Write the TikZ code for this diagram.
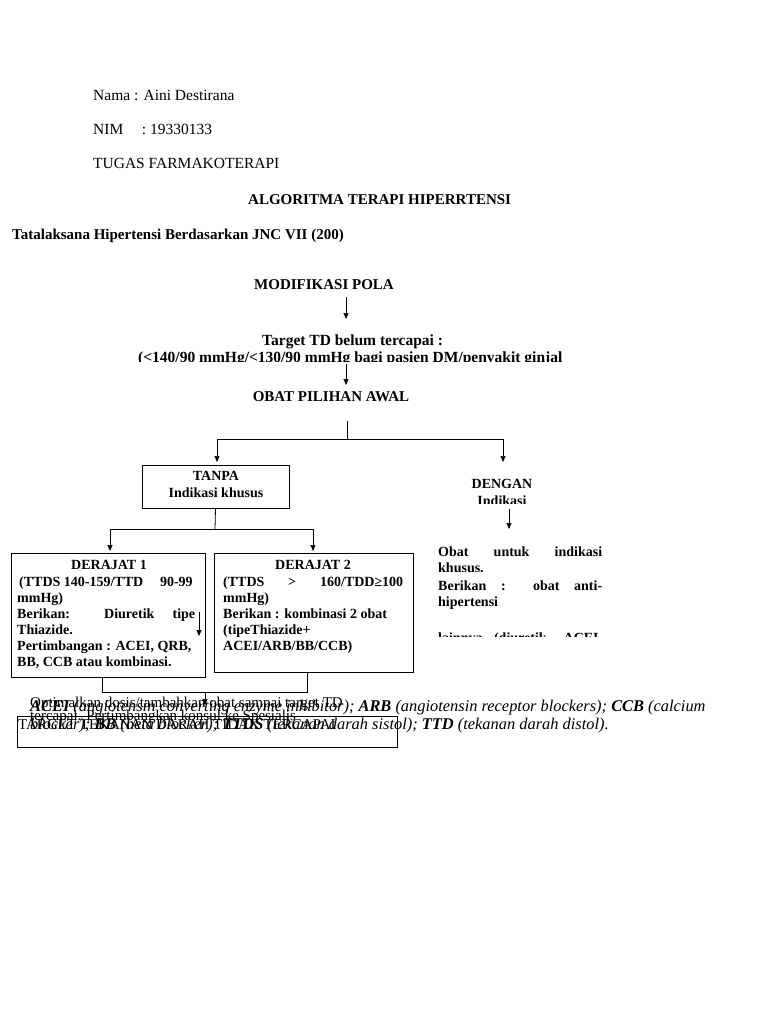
\documentclass[tikz,border=0pt]{standalone}
\usepackage{fontspec}
\setmainfont{Liberation Serif}
\usetikzlibrary{arrows.meta}
\begin{document}
\begin{tikzpicture}[x=1pt,y=-1pt,
  txt/.style={anchor=base west,inner sep=0pt,font=\fontsize{15.5}{17}\selectfont},
  head/.style={anchor=base west,inner sep=0pt,font=\fontsize{15}{17}\selectfont\bfseries},
  chead/.style={anchor=base,inner sep=0pt,font=\fontsize{15}{17}\selectfont\bfseries},
  whead/.style={anchor=base west,inner sep=0pt,font=\fontsize{15.5}{17}\selectfont\bfseries},
  btxt/.style={anchor=base west,inner sep=0pt,font=\fontsize{14}{16}\selectfont\bfseries},
  cbtxt/.style={anchor=base,inner sep=0pt,font=\fontsize{14}{16}\selectfont\bfseries},
  rtxt/.style={anchor=base west,inner sep=0pt,font=\fontsize{15}{16}\selectfont},
  itxt/.style={anchor=base west,inner sep=0pt,font=\fontsize{16.4}{17}\selectfont\itshape},
  boxed/.style={draw,line width=0.8pt},
  conn/.style={line width=0.8pt},
  arr/.style={line width=0.6pt,-{Triangle[length=6pt,width=5pt]}},
]
\useasboundingbox[fill=white] (0,0) rectangle (768,1024);

% header
\node[txt] (nama) at (93,101) {Nama : Aini Destirana};
\node[txt] (nim) at (93,135) {NIM\hspace{1.2em}: 19330133};
\node[txt] (tugas) at (93,169) {TUGAS FARMAKOTERAPI};
\node[head] (judul) at (248,205) {ALGORITMA TERAPI HIPERRTENSI};
\node[head] (tata) at (12,240) {Tatalaksana Hipertensi Berdasarkan JNC VII (200)};

% flow
\node[chead] (modif) at (324,289) {MODIFIKASI POLA};
\node[whead] (target) at (262,345) {Target TD belum tercapai :};
\begin{scope}
\clip (0,300) rectangle (768,361.5);
\node[whead] (target2) at (138,362) {(<140/90 mmHg/<130/90 mmHg bagi pasien DM/penyakit ginjal};
\end{scope}
\node[chead] (obat) at (331,401) {OBAT PILIHAN AWAL};

\coordinate (a1s) at (346,297);
\coordinate (a1e) at (346,319);
\draw[arr] (a1s) -- (a1e);
\coordinate (a2s) at (346,364);
\coordinate (a2e) at (346,385);
\draw[arr] (a2s) -- (a2e);

% branch
\coordinate (b0) at (347,421);
\coordinate (b1) at (347,439);
\coordinate (bl) at (217,439);
\coordinate (br) at (503,439);
\coordinate (blt) at (217,462);
\coordinate (brt) at (503,462);
\draw[conn] (b0) -- (b1);
\draw[conn] (bl) -- (br);
\draw[arr] (bl) -- (blt);
\draw[arr] (br) -- (brt);

% TANPA box
\node[boxed, minimum width=147pt, minimum height=43pt, inner sep=0pt] (tanpa) at (215.5,486.5) {};
\node[cbtxt] (tanpaA) at (216,480) {TANPA};
\node[cbtxt] (tanpaB) at (216,497) {Indikasi khusus};

% DENGAN
\node[cbtxt] (dengan) at (502,488) {DENGAN};
\begin{scope}
\clip (400,490) rectangle (620,503.5);
\node[cbtxt] (dengan2) at (502,505) {Indikasi};
\end{scope}
\coordinate (d1s) at (509,509);
\coordinate (d1e) at (509,529);
\draw[arr] (d1s) -- (d1e);

% right text
\node[btxt] (r1) at (438,556) {\makebox[164pt][s]{Obat untuk indikasi}};
\node[btxt] (r2) at (438,572) {khusus.};
\node[btxt] (r3) at (438,590) {\makebox[164pt][s]{Berikan : obat anti-}};
\node[btxt] (r4) at (438,606) {hipertensi};
\begin{scope}
\clip (400,600) rectangle (620,636);
\node[btxt] (r5) at (438,642) {\makebox[164pt][s]{lainnya (diuretik, ACEI,}};
\end{scope}

% second branch
\coordinate (t1) at (215,529);
\coordinate (tl) at (110,529);
\coordinate (tr) at (313,529);
\coordinate (tlt) at (110,551);
\coordinate (trt) at (313,551);
\draw[conn] (tanpa.south) -- (t1);
\draw[conn] (tl) -- (tr);
\draw[arr] (tl) -- (tlt);
\draw[arr] (tr) -- (trt);

% DERAJAT 1
\node[boxed, minimum width=194pt, minimum height=124pt, inner sep=0pt] (d1) at (108,615) {};
\node[cbtxt] (d1a) at (109,569) {DERAJAT 1};
\node[btxt] (d1b) at (19,586) {(TTDS 140-159/TTD\hspace{1.2em}90-99};
\node[btxt] (d1c) at (17,602) {mmHg)};
\node[btxt] (d1d) at (17,618) {\makebox[178pt][s]{Berikan: Diuretik tipe}};
\node[btxt] (d1e) at (17,634) {Thiazide.};
\node[btxt] (d1f) at (17,650) {Pertimbangan : ACEI, QRB,};
\node[btxt] (d1g) at (17,666) {BB, CCB atau kombinasi.};
\coordinate (s1) at (199,612);
\coordinate (s2) at (199,636);
\draw[arr] (s1) -- (s2);

% DERAJAT 2
\node[boxed, minimum width=199pt, minimum height=119pt, inner sep=0pt] (d2) at (313.5,612.5) {};
\node[cbtxt] (d2a) at (313,569) {DERAJAT 2};
\node[btxt] (d2b) at (223,586) {\makebox[180pt][s]{(TTDS > 160/TDD≥100}};
\node[btxt] (d2c) at (223,602) {mmHg)};
\node[btxt] (d2d) at (223,618) {Berikan : kombinasi 2 obat};
\node[btxt] (d2e) at (223,634) {(tipeThiazide+};
\node[btxt] (d2f) at (223,650) {ACEI/ARB/BB/CCB)};

% join below
\coordinate (j1) at (102,692);
\coordinate (j2) at (307,692);
\coordinate (jm) at (205,692);
\coordinate (jt) at (205,705);
\draw[conn] (d1.south -| j1) -- (j1) -- (j2) -- (d2.south -| j2);
\draw[arr] (jm) -- (jt);

% bottom box
\node[boxed, minimum width=380pt, minimum height=31pt, inner sep=0pt] (bot) at (207,731.5) {};
\node[rtxt] (bt) at (18,729) {TARGET TEKANAN DARAH TIDAK TERCAPAI};
\node[rtxt] (o1) at (30,707) {Optimalkan dosis/tambahkan obat sampai target TD};
\node[rtxt] (o2) at (30,720) {tercapai. Pertimbangkan konsul ke Spesialis};
\node[itxt] (k1) at (30,711) {\textbf{ACEI} (angiotensin converting enzyme inhibitor); \textbf{ARB} (angiotensin receptor blockers); \textbf{CCB} (calcium};
\node[itxt] (k2) at (30,729) {blocker); \textbf{BB} (beta blocker); \textbf{TTDS} (tekanan darah sistol); \textbf{TTD} (tekanan darah distol).};
\end{tikzpicture}
\end{document}
